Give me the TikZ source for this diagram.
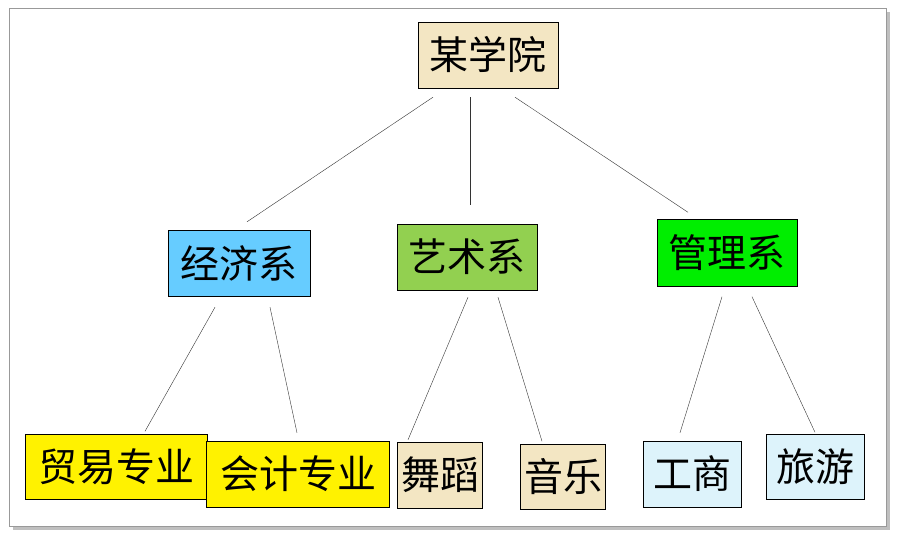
\documentclass[tikz,border=0pt]{standalone}
\usepackage{fontspec}
\newfontfamily\cjk{Noto Sans CJK SC}
\usetikzlibrary{calc}
\definecolor{beige}{HTML}{F3E6C3}
\definecolor{skyblue}{HTML}{66CCFF}
\definecolor{leaf}{HTML}{92D050}
\definecolor{brightgreen}{HTML}{00EE00}
\definecolor{paleblue}{HTML}{DDF3FB}
\tikzset{>=latex}

\begin{document}
\begin{tikzpicture}[x=1pt, y=-1pt,
        unit/.style={draw, thin, inner sep=0pt, font=\cjk\fontsize{39}{39}\selectfont},
        link/.style={draw, thin, black!80}
    ]

    % frame with shadow
    \useasboundingbox (0,0) rectangle (897,540);
    \fill[black!25] (13,12) rectangle (890,530);
    \fill[white, draw=black!40] (9,8) rectangle (886,526);

    %=== Nodes ===%
    \node[unit, fill=beige, minimum width=140, minimum height=66] (root) at (488,55) {某学院};

    \node[unit, fill=skyblue, minimum width=142, minimum height=66] (econ) at (239,263) {经济系};
    \node[unit, fill=leaf, minimum width=140, minimum height=66] (art) at (467,257) {艺术系};
    \node[unit, fill=brightgreen, minimum width=140, minimum height=67] (mgmt) at (727,253) {管理系};

    \node[unit, fill=yellow, minimum width=182, minimum height=65] (trade) at (116,467) {贸易专业};
    \node[unit, fill=yellow, minimum width=183, minimum height=66] (acct) at (298,474) {会计专业};
    \node[unit, fill=beige, minimum width=85, minimum height=66] (dance) at (440,475) {舞蹈};
    \node[unit, fill=beige, minimum width=85, minimum height=65] (music) at (563,477) {音乐};
    \node[unit, fill=paleblue, minimum width=98, minimum height=66] (biz) at (692,474) {工商};
    \node[unit, fill=paleblue, minimum width=98, minimum height=65] (tour) at (815,467) {旅游};

    %=== Connectors ===%
    \draw[link] ($(root.south)+(-55,9)$) -- ($(econ.north)+(8,-8)$);
    \draw[link] ($(root.south)+(-18,9)$) -- ($(art.north)+(3,-19)$);
    \draw[link] ($(root.south)+(27,9)$) -- ($(mgmt.north)+(-39,-7)$);

    \draw[link] ($(econ.south)+(-24,11)$) -- ($(trade.north)+(29,-3)$);
    \draw[link] ($(econ.south)+(31,11)$) -- ($(acct.north)+(-1,-8)$);
    \draw[link] ($(art.south)+(1,7)$) -- ($(dance.north)+(-32,-2)$);
    \draw[link] ($(art.south)+(31,7)$) -- ($(music.north)+(-21,-3)$);
    \draw[link] ($(mgmt.south)+(-5,10)$) -- ($(biz.north)+(-12,-8)$);
    \draw[link] ($(mgmt.south)+(25,10)$) -- ($(tour.north)+(0,-2)$);

\end{tikzpicture}
\end{document}
